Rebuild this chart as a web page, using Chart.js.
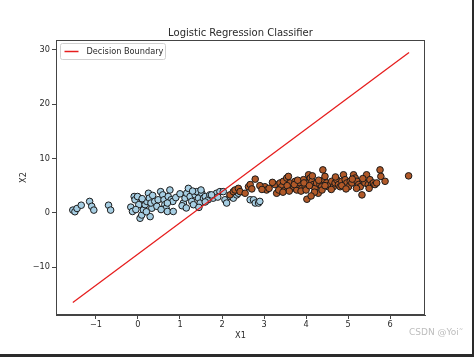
<!DOCTYPE html>
<html>
<head>
<meta charset="utf-8">
<script src="https://cdn.jsdelivr.net/npm/chart.js@4/dist/chart.umd.min.js"></script>
<style>
  html, body { margin: 0; padding: 0; background: #fff; }
  #wrap { position: relative; width: 474px; height: 357px; overflow: hidden; background: #fff; }
  #edgeR { position: absolute; right: 0; top: 0; width: 2px; height: 357px; background: #2a2a2a; }
  #edgeB { position: absolute; left: 0; bottom: 0; width: 474px; height: 3px; background: #2a2a2a; }
  #wm { position: absolute; left: 409px; top: 327px; font: 9px "DejaVu Sans", sans-serif; color: #bdbdbd; white-space: nowrap; }
  canvas { display: block; }
</style>
</head>
<body>
<div id="wrap">
  <canvas id="c" width="474" height="357"></canvas>
  <div id="wm">CSDN @Yoi˜</div>
  <div id="edgeR"></div>
  <div id="edgeB"></div>
</div>
<script>
const chartTitle = "Logistic Regression Classifier";
const xLabel = "X1";
const yLabel = "X2";
const lineLabel = "Decision Boundary";
const xTicks = [-1, 0, 1, 2, 3, 4, 5, 6];
const yTicks = [-10, 0, 10, 20, 30];

// Decision boundary endpoints
const lineX = [-1.55, 6.45];
const lineY = [-16.5, 29.5];

// Class 0 (light blue)
const class0X = [-1.55,-1.5,-1.45,-1.35,-1.15,-1.1,-1.05,-0.7,-0.65,
  -0.17,-0.13,-0.09,-0.07,-0.01,0.02,0.05,0.09,0.13,0.17,0.21,0.25,0.27,0.29,0.33,0.31,0.4,0.48,0.54,0.59,0.62,0.64,0.67,0.7,0.72,0.76,0.79,0.83,0.84,
  1.08,1.12,1.16,1.2,1.24,1.28,1.32,1.36,1.4,1.44,1.48,
  1.52,1.56,1.6,1.67,1.71,1.79,1.87,1.95,2.03,2.07,2.11,2.19,2.27,2.35,2.39,2.67,2.75,2.79,2.87,2.9,
  0.1,0.45,0.55,0.9,1.0,1.05,1.3,1.45,1.5,0.35,0.7,1.15,1.75,1.9,-0.05,0.2,1.6];
const class0Y = [0.5,0.2,0.8,1.4,2.1,1.2,0.5,1.4,0.5,
  1.05,0.25,3.0,2.4,3.0,1.5,-1.0,-0.4,0.55,1.5,2.1,3.6,2.7,-0.7,0.85,1.8,2.1,2.4,3.9,3.3,2.4,1.5,0.85,0.25,3.0,4.2,2.4,2.1,0.25,
  1.8,2.7,3.6,4.5,3.0,2.1,1.5,3.3,3.9,2.7,1.8,
  3.6,2.7,3.0,2.4,3.3,2.7,3.6,3.9,3.9,2.4,1.8,3.0,2.7,3.3,3.6,2.4,2.4,1.8,1.8,2.1,
  2.6,1.2,0.6,2.8,3.5,1.3,4.0,1.0,4.2,3.2,1.8,0.9,3.3,2.9,0.6,0.2,2.0];

// Class 1 (brown)
const class1X = [2.19,2.27,2.31,2.39,2.43,2.55,2.63,2.67,2.71,2.79,3.02,3.06,3.26,3.3,3.38,3.42,3.46,3.5,3.54,3.58,
  3.62,3.66,3.7,3.74,3.78,3.82,3.86,3.9,3.94,3.98,4.02,4.03,4.06,4.1,4.14,4.17,4.21,4.25,4.29,4.33,
  4.37,4.4,4.43,4.45,4.49,4.53,4.57,4.61,4.65,4.69,4.73,4.77,4.81,4.85,4.89,4.93,4.97,5.01,5.05,5.09,
  5.13,5.17,5.21,5.25,5.29,5.33,5.36,5.4,5.44,5.48,5.52,5.56,5.6,5.64,5.68,5.76,5.78,5.88,6.44,
  3.35,3.55,3.6,3.72,3.8,3.88,3.95,4.0,4.08,4.15,4.2,4.3,4.38,4.45,4.6,4.7,4.85,4.95,5.1,5.2,5.35,5.5,3.12,3.2,2.9,2.95,3.45,4.12];
const class1Y = [3.3,3.9,4.2,4.5,3.9,3.6,4.8,5.2,4.4,6.2,4.8,4.2,5.2,3.6,5.5,4.8,5.8,4.2,6.4,6.7,
  5.5,4.5,4.8,5.8,4.2,5.2,5.5,4.5,6.1,4.8,2.5,5.5,7.0,6.4,5.8,5.2,4.5,5.5,3.6,5.2,
  4.8,7.9,6.1,6.7,5.5,4.8,5.2,5.8,4.8,5.5,6.1,5.2,4.8,5.8,7.0,6.1,5.5,4.8,5.8,5.5,
  7.0,6.4,5.8,5.2,4.8,3.3,5.8,5.5,7.0,5.2,6.1,5.2,5.5,5.2,5.5,7.9,6.7,5.8,6.8,
  4.2,5.0,4.0,5.2,6.0,4.0,5.5,4.2,5.0,6.8,3.8,6.0,4.2,5.0,4.3,6.6,5.0,4.4,6.2,4.5,6.3,4.5,4.5,5.6,5.0,4.3,3.8,3.1];

const toPts = (xs, ys) => xs.map((x, i) => ({x: x, y: ys[i]}));

const FONT = '"DejaVu Sans", sans-serif';
const AXIS = '#444';
const TXT = '#2a2a2a';

const framePlugin = {
  id: 'frame',
  afterDatasetsDraw(chart) {
    const a = chart.chartArea, ctx = chart.ctx;
    ctx.save();
    ctx.strokeStyle = AXIS;
    ctx.lineWidth = 1;
    ctx.strokeRect(Math.round(a.left) + 0.5, Math.round(a.top) + 0.5,
                   Math.round(a.right - a.left) - 1, Math.round(a.bottom - a.top) - 1);
    // title centred over the plot area
    ctx.fillStyle = TXT;
    ctx.font = '10px ' + FONT;
    ctx.textAlign = 'center';
    ctx.textBaseline = 'middle';
    ctx.fillText(chartTitle, (a.left + a.right) / 2, a.top - 7);
    // legend box (matplotlib style, upper left)
    const lx = a.left + 4.5, ly = a.top + 3.5, lw = 105, lh = 16;
    ctx.beginPath();
    if (ctx.roundRect) ctx.roundRect(lx, ly, lw, lh, 2); else ctx.rect(lx, ly, lw, lh);
    ctx.fillStyle = 'rgba(255,255,255,0.85)';
    ctx.fill();
    ctx.strokeStyle = '#d0d0d0';
    ctx.lineWidth = 1;
    ctx.stroke();
    ctx.beginPath();
    ctx.moveTo(lx + 4, ly + 8);
    ctx.lineTo(lx + 18, ly + 8);
    ctx.strokeStyle = 'rgb(230,30,30)';
    ctx.lineWidth = 1.5;
    ctx.stroke();
    ctx.fillStyle = TXT;
    ctx.font = '8.2px ' + FONT;
    ctx.textBaseline = 'middle';
    ctx.textAlign = 'left';
    ctx.fillText(chart.data.datasets[2].label, lx + 26, ly + 8.5);
    ctx.restore();
  }
};

new Chart(document.getElementById('c'), {
  type: 'scatter',
  data: {
    datasets: [
      {
        label: 'Class 0',
        data: toPts(class0X, class0Y),
        backgroundColor: '#a6cee3',
        borderColor: '#1a1a1a',
        borderWidth: 1,
        pointRadius: 3.3,
        order: 2
      },
      {
        label: 'Class 1',
        data: toPts(class1X, class1Y),
        backgroundColor: '#b15928',
        borderColor: '#1a1a1a',
        borderWidth: 1,
        pointRadius: 3.3,
        order: 1
      },
      {
        type: 'line',
        label: lineLabel,
        data: toPts(lineX, lineY),
        borderColor: 'rgb(230,30,30)',
        borderWidth: 1.3,
        pointRadius: 0,
        showLine: true,
        fill: false,
        order: 0
      }
    ]
  },
  options: {
    responsive: false,
    animation: false,
    devicePixelRatio: 1,
    layout: { padding: { left: 0, right: 49, top: 40, bottom: 0 } },
    plugins: {
      legend: { display: false },
      tooltip: { enabled: false },
      title: { display: false }
    },
    scales: {
      x: {
        type: 'linear',
        min: -1.95,
        max: 6.83,
        afterFit(s) { s.height = 42; },
        afterBuildTicks(s) { s.ticks = xTicks.map(v => ({value: v})); },
        grid: { display: true, drawOnChartArea: false, drawTicks: true, tickLength: 4, color: AXIS },
        border: { display: true, color: AXIS },
        ticks: { color: TXT, font: { family: FONT, size: 8.2 }, padding: 1, maxRotation: 0,
                 callback: v => (v < 0 ? '\u2212' + Math.abs(v) : String(v)) },
        title: { display: true, text: xLabel, color: TXT, font: { family: FONT, size: 8.2, lineHeight: 1.2 },
                 padding: { top: 0, bottom: 16 } }
      },
      y: {
        type: 'linear',
        min: -18.8,
        max: 31.8,
        afterFit(s) { s.width = 56; },
        afterBuildTicks(s) { s.ticks = yTicks.map(v => ({value: v})); },
        grid: { display: true, drawOnChartArea: false, drawTicks: true, tickLength: 4, color: AXIS },
        border: { display: true, color: AXIS },
        ticks: { color: TXT, font: { family: FONT, size: 8.2 }, padding: 2,
                 callback: v => (v < 0 ? '\u2212' + Math.abs(v) : String(v)) },
        title: { display: true, text: yLabel, color: TXT, font: { family: FONT, size: 8.2, lineHeight: 1.2 },
                 padding: { top: 19, bottom: 0 } }
      }
    }
  },
  plugins: [framePlugin]
});
</script>
</body>
</html>
